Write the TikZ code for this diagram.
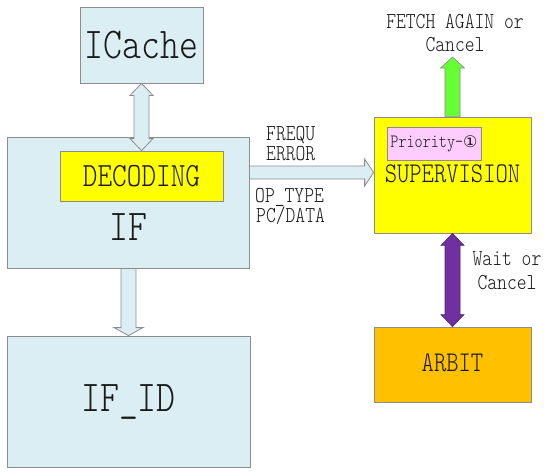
\documentclass[tikz,border=0pt]{standalone}
\usepackage{fontspec}
\usetikzlibrary{calc}
\newfontfamily\mf[FakeStretch=0.82]{lmmonolt10-regular.otf}
\newfontfamily\symf{DejaVu Sans}
\definecolor{lblue}{HTML}{DBEEF4}
\definecolor{bgray}{HTML}{8C8C8C}
\definecolor{yel}{HTML}{FFFF00}
\definecolor{pink}{HTML}{FFCCFF}
\definecolor{orng}{HTML}{FFC000}
\definecolor{grn}{HTML}{66FF33}
\definecolor{purp}{HTML}{7030A0}
\definecolor{txt}{HTML}{1A1A1A}
\tikzset{
  box/.style={draw=bgray, line width=0.8pt, inner sep=0pt, text=txt},
  bluebox/.style={box, fill=lblue},
  barrow/.style={draw=bgray, fill=lblue, line width=0.8pt, line join=miter},
  garrow/.style={draw=bgray, fill=grn, line width=0.6pt},
  parrow/.style={draw=purp!70!black, fill=purp, line width=0.6pt},
  big/.style={font=\mf\fontsize{44}{44}\selectfont, text=txt},
  mid/.style={font=\mf\fontsize{34}{34}\selectfont, text=txt},
  med/.style={font=\mf\fontsize{28.6}{28.6}\selectfont, text=txt},
  lbl/.style={font=\mf\fontsize{22.8}{20}\selectfont, text=txt, inner sep=0pt},
}
\begin{document}
\begin{tikzpicture}[x=1pt,y=-1pt]
\useasboundingbox (0,0) rectangle (550,475);
% boxes
\node[bluebox, minimum width=123pt, minimum height=76pt] (ic) at (141.5,45) {};
\node[big] (ictxt) at (141.5,45) {ICache};
\node[bluebox, minimum width=242pt, minimum height=131pt] (if) at (128,202.5) {};
\node[box, fill=yel, minimum width=163pt, minimum height=50pt] (dec) at (141.5,176) {};
\node[mid] (dectxt) at (141.5,176) {DECODING};
\node[big] (iftxt) at (128,227) {IF};
\node[bluebox, minimum width=243pt, minimum height=131pt] (ifid) at (128.5,401.5) {};
\node[big] (ifidtxt) at (128.5,402) {IF\_ID};
\node[box, fill=yel, minimum width=157pt, minimum height=116pt] (sup) at (452.5,175) {};
\node[box, fill=pink, minimum width=94pt, minimum height=33pt] (pri) at (434,143.5) {};
\node[font=\mf\fontsize{18.8}{18.8}\selectfont, text=txt] (pritxt) at (434,143.5) {Priority-{\symf\fontsize{16}{16}\selectfont ①}};
\node[med] (suptxt) at (452.5,174) {SUPERVISION};
\node[box, fill=orng, minimum width=157pt, minimum height=75pt] (arb) at (452.5,364.5) {};
\node[med] (arbtxt) at (452.5,363) {ARBIT};
% labels
\node[lbl, align=center, font=\mf\fontsize{22.8}{23}\selectfont] (fetch) at (455,33.5) {FETCH AGAIN or\\Cancel};
\node[lbl, align=center, font=\mf\fontsize{22.8}{24}\selectfont] (wait) at (507,271) {Wait or\\Cancel};
\node[lbl, anchor=base west] (freq1) at (266,140) {FREQU};
\node[lbl, anchor=base west] (freq2) at (266,160) {ERROR};
\node[lbl, anchor=base west] (op1) at (255,202) {OP\_TYPE};
\node[lbl, anchor=base west] (op2) at (256,222) {PC/DATA};
\coordinate (gtip) at (452.5,57);
% ICache <-> DECODING
\draw[barrow] let \p1=(ic.south), \p2=(dec.north) in
  (\x1,\y1) -- (\x1+11.5pt,\y1-12pt) -- (\x1+7.5pt,\y1-12pt) -- (\x1+7.5pt,\y2+12pt)
  -- (\x1+11.5pt,\y2+12pt) -- (\x1,\y2) -- (\x1-11.5pt,\y2+12pt) -- (\x1-7.5pt,\y2+12pt)
  -- (\x1-7.5pt,\y1-12pt) -- (\x1-11.5pt,\y1-12pt) -- cycle;
% IF -> IF_ID
\draw[barrow] let \p1=($(if.south)+(0.5,0)$), \p2=(ifid.north) in
  (\x1-7.5pt,\y1) -- (\x1+7.5pt,\y1) -- (\x1+7.5pt,\y2+8pt) -- (\x1+14.5pt,\y2+8pt)
  -- (\x1,\y2) -- (\x1-14.5pt,\y2+8pt) -- (\x1-7.5pt,\y2+8pt) -- cycle;
% IF -> SUPERVISION
\draw[barrow] let \p1=(if.east), \p2=(sup.west), \p3=($(dec.center)+(0,-3.5)$) in
  (\x1,\y3+6.5pt) -- (\x2-9pt,\y3+6.5pt) -- (\x2-9pt,\y3+13.5pt) -- (\x2,\y3)
  -- (\x2-9pt,\y3-13.5pt) -- (\x2-9pt,\y3-6.5pt) -- (\x1,\y3-6.5pt) -- cycle;
% SUPERVISION -> up (green)
\draw[garrow] let \p1=(sup.north), \p2=(gtip) in
  (\x1-7.5pt,\y1) -- (\x1+7.5pt,\y1) -- (\x1+7.5pt,\y2-11pt) -- (\x1+12pt,\y2-11pt)
  -- (\x1,\y2) -- (\x1-12pt,\y2-11pt) -- (\x1-7.5pt,\y2-11pt) -- cycle;
% SUPERVISION <-> ARBIT (purple)
\draw[parrow] let \p1=(sup.south), \p2=(arb.north) in
  (\x1,\y1) -- (\x1+11.5pt,\y1-12pt) -- (\x1+7.5pt,\y1-12pt) -- (\x1+7.5pt,\y2+12pt)
  -- (\x1+11.5pt,\y2+12pt) -- (\x1,\y2) -- (\x1-11.5pt,\y2+12pt) -- (\x1-7.5pt,\y2+12pt)
  -- (\x1-7.5pt,\y1-12pt) -- (\x1-11.5pt,\y1-12pt) -- cycle;
\end{tikzpicture}
\end{document}
